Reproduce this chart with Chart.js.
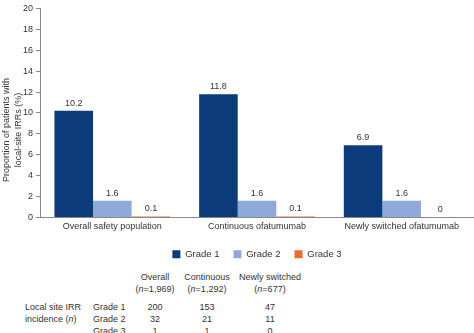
<!DOCTYPE html>
<html><head><meta charset="utf-8">
<script src="https://cdn.jsdelivr.net/npm/chart.js@4.4.0/dist/chart.umd.min.js"></script>
<style>
html,body{margin:0;padding:0;background:#fff;overflow:hidden;width:474px;height:333px;}
#wrap{position:absolute;left:0;top:0;width:474px;height:269px;}
.t{position:absolute;font-family:"Liberation Sans",Arial,sans-serif;font-size:9px;color:#333;white-space:nowrap;line-height:11px;}
.c{transform:translateX(-50%);text-align:center;}
</style></head><body>
<div id="wrap"><canvas id="c" width="474" height="269"></canvas></div>
<div id="tbl"></div>
<script>
const categories = ["Overall safety population", "Continuous ofatumumab", "Newly switched ofatumumab"];
const grade1 = [10.2, 11.8, 6.9];
const grade2 = [1.6, 1.6, 1.6];
const grade3 = [0.1, 0.1, 0];
const yTicks = [0, 2, 4, 6, 8, 10, 12, 14, 16, 18, 20];
const seriesNames = ["Grade 1", "Grade 2", "Grade 3"];
const colors = ["#0b3b7a", "#8eaadb", "#ec6a2c"];
const tableHeads = [["Overall", "1,969"], ["Continuous", "1,292"], ["Newly switched", "677"]];
const tableRows = [["Grade 1", 200, 153, 47], ["Grade 2", 32, 21, 11], ["Grade 3", 1, 1, 0]];

const FONT = '"Liberation Sans", Arial, sans-serif';

const labelPlugin = {
  id: 'vals',
  afterDatasetsDraw(chart) {
    const ctx = chart.ctx;
    ctx.save();
    ctx.font = '9px ' + FONT;
    ctx.fillStyle = '#333';
    ctx.textAlign = 'center';
    ctx.textBaseline = 'bottom';
    chart.data.datasets.forEach((ds, i) => {
      chart.getDatasetMeta(i).data.forEach((bar, j) => {
        ctx.fillText(String(ds.data[j]), bar.x, bar.y - 3);
      });
    });
    ctx.restore();
  }
};
const yTitlePlugin = {
  id: 'ytitle',
  afterDraw(chart) {
    const ctx = chart.ctx;
    ctx.save();
    ctx.font = '9px ' + FONT;
    ctx.fillStyle = '#333';
    ctx.textAlign = 'center';
    ctx.textBaseline = 'middle';
    ctx.translate(0, 130);
    ctx.rotate(-Math.PI / 2);
    ctx.fillText('Proportion of patients with', 0, 7);
    ctx.fillText('local-site IRRs (%)', 0, 19);
    ctx.restore();
  }
};

new Chart(document.getElementById('c'), {
  type: 'bar',
  data: {
    labels: categories,
    datasets: seriesNames.map((n, i) => ({
      label: n,
      data: [grade1, grade2, grade3][i],
      backgroundColor: colors[i],
      borderWidth: 0,
      barPercentage: 1.0,
      categoryPercentage: 0.8
    }))
  },
  options: {
    responsive: false,
    animation: false,
    layout: { padding: { top: 3, right: 0, left: 0, bottom: 0 } },
    plugins: {
      legend: {
        position: 'bottom',
        fullSize: false,
        labels: { boxWidth: 8, boxHeight: 8, font: { size: 9.5, family: FONT }, color: '#333', padding: 14 }
      },
      tooltip: { enabled: false }
    },
    scales: {
      x: {
        grid: { display: true, drawOnChartArea: false, drawTicks: false, color: '#888' },
        border: { color: '#888' },
        ticks: { font: { size: 9, family: FONT }, color: '#333', padding: 4, maxRotation: 0, autoSkip: false },
        afterFit(s) { s.height = 18; }
      },
      y: {
        min: 0, max: 20,
        afterBuildTicks(s) { s.ticks = yTicks.map(v => ({ value: v })); },
        grid: { display: true, drawOnChartArea: false, drawTicks: true, tickLength: 4, color: '#888' },
        border: { color: '#888' },
        ticks: { font: { size: 9, family: FONT }, color: '#333', padding: 3 },
        afterFit(s) { s.width = 40; }
      }
    }
  },
  plugins: [labelPlugin, yTitlePlugin]
});

// table below chart
const tbl = document.getElementById('tbl');
const colX = [155, 207, 270];
function add(txt, x, y, center, html) {
  const d = document.createElement('div');
  d.className = 't' + (center ? ' c' : '');
  d.style.left = x + 'px';
  d.style.top = (y - 5.5) + 'px';
  if (html) d.innerHTML = txt; else d.textContent = txt;
  tbl.appendChild(d);
}
tableHeads.forEach((h, i) => {
  add(h[0], colX[i], 277, true);
  add('(<i>n</i>=' + h[1] + ')', colX[i], 289, true, true);
});
add('Local site IRR', 25, 307, false);
add('incidence (<i>n</i>)', 25, 319, false, true);
tableRows.forEach((r, k) => {
  const y = 307 + k * 12;
  add(r[0], 93, y, false);
  for (let i = 0; i < 3; i++) add(String(r[i + 1]), colX[i], y, true);
});
</script>
</body></html>
